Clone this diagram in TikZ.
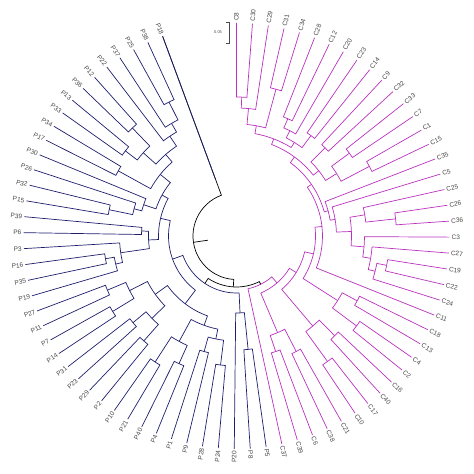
\documentclass[tikz,border=0pt]{standalone}
\usepackage{fontspec}
\setmainfont{Liberation Sans}
\definecolor{navyedge}{RGB}{30,30,110}
\definecolor{magedge}{RGB}{185,50,190}
\definecolor{lbltext}{RGB}{70,70,70}
\tikzset{
  lbl/.style={font=\fontsize{6.5}{7}\selectfont, text=lbltext, inner sep=0.5pt},
  pedge/.style={draw=navyedge, line width=0.7pt},
  cedge/.style={draw=magedge, line width=0.7pt},
  redge/.style={draw=black, line width=0.7pt}
}
% leaf: id, position, text
\newcommand\tleaf[3]{%
  \pgfmathsetmacro\aL{90-4.3*#2}%
  \expandafter\xdef\csname ang#1\endcsname{\aL}%
  \coordinate (#1) at (\aL:213);
  \ifdim\aL pt>-90pt
    \node[lbl, rotate=\aL, anchor=west] (lb#1) at (\aL:214.5) {#3};
  \else
    \pgfmathsetmacro\aR{\aL+180}%
    \node[lbl, rotate=\aR, anchor=east] (lb#1) at (\aL:214.5) {#3};
  \fi
}
% join: id, child a, child b, radius, style
\newcommand\tjoin[5]{%
  \edef\aA{\csname ang#2\endcsname}\edef\aB{\csname ang#3\endcsname}%
  \pgfmathsetmacro\aM{(\aA+\aB)/2}%
  \expandafter\xdef\csname ang#1\endcsname{\aM}%
  \coordinate (#1) at (\aM:#4);
  \draw[#5] (#2) -- (\aA:#4) arc[start angle=\aA, end angle=\aB, radius=#4] -- (#3);
}

\begin{document}
\begin{tikzpicture}[x=1pt, y=1pt]
  \useasboundingbox (-236.5,-238) rectangle (237.5,236);

  %% leaves
  \foreach \n/\i in {C8/0, C30/1, C29/2, C31/3, C34/4, C28/5, C12/6, C20/7,
      C23/8, C14/9, C9/10, C32/11, C33/12, C7/13, C1/14, C15/15, C35/16,
      C5/17, C25/18, C26/19, C36/20, C3/21, C27/22, C19/23, C22/24, C24/25,
      C11/26, C18/27, C13/28, C4/29, C2/30, C16/31, C40/32, C17/33, C10/34,
      C21/35, C38/36, C6/37, C39/38, C37/39}
    \tleaf{\n}{\i}{\n};
  \foreach \n/\i in {P5/40, P8/41, P20/42, P24/43, P28/44, P9/45, P1/46,
      P4/47, P40/48, P21/49, P10/50, P2/51, P29/52, P23/53, P31/54, P14/55,
      P7/56, P11/57, P27/58, P19/59, P35/60, P16/61, P3/62, P6/63, P39/64,
      P15/65, P32/66, P26/67, P30/68, P17/69, P34/70, P33/71, P13/72,
      P36/73, P12/74, P22/75, P37/76, P25/77, P38/78, P18/79}
    \tleaf{\n}{\i}{\n};

  %% C cluster
  \tjoin{c1}{C8}{C30}{139}{cedge}
  \tjoin{c2}{c1}{C29}{128}{cedge}
  \tjoin{c3}{C31}{C34}{152}{cedge}
  \tjoin{c4}{c2}{c3}{112}{cedge}
  \tjoin{c5}{C28}{C12}{128}{cedge}
  \tjoin{c6}{c5}{C20}{118}{cedge}
  \tjoin{c7}{C23}{C14}{125}{cedge}
  \tjoin{c8}{c6}{c7}{110}{cedge}
  \tjoin{c10}{C9}{C32}{125}{cedge}
  \tjoin{c11}{C33}{C7}{140}{cedge}
  \tjoin{c12}{C1}{C15}{150}{cedge}
  \tjoin{c13}{c11}{c12}{118}{cedge}
  \tjoin{c14}{c10}{c13}{105}{cedge}
  \tjoin{c15}{C26}{C36}{160}{cedge}
  \tjoin{c16}{C25}{c15}{130}{cedge}
  \tjoin{c17}{C19}{C22}{153}{cedge}
  \tjoin{c18}{c17}{C24}{143}{cedge}
  \tjoin{c19}{C27}{c18}{136}{cedge}
  \tjoin{c20}{C3}{c19}{128}{cedge}
  \tjoin{c21}{c16}{c20}{115}{cedge}
  \tjoin{c22}{C5}{c21}{100}{cedge}
  \tjoin{c23}{C35}{c22}{95}{cedge}
  \tjoin{c24}{C18}{C13}{137}{cedge}
  \tjoin{c25}{C4}{C2}{150}{cedge}
  \tjoin{c26}{c24}{c25}{120}{cedge}
  \tjoin{c27}{C16}{C40}{140}{cedge}
  \tjoin{c28}{C17}{C10}{155}{cedge}
  \tjoin{c29}{c27}{c28}{118}{cedge}
  \tjoin{c30}{C21}{C38}{130}{cedge}
  \tjoin{c31}{C6}{C39}{122}{cedge}
  \tjoin{c32}{c30}{c31}{105}{cedge}
  \tjoin{cl1}{c4}{c8}{104}{cedge}
  \tjoin{cl2}{cl1}{c14}{98}{cedge}
  \tjoin{cl3}{cl2}{c23}{91}{cedge}
  \tjoin{cl4}{cl3}{C11}{86}{cedge}
  \tjoin{cl5}{cl4}{c26}{79}{cedge}
  \tjoin{cl6}{cl5}{c29}{70}{cedge}
  \tjoin{cl7}{cl6}{c32}{62}{cedge}
  \tjoin{cl8}{cl7}{C37}{54}{cedge}

  %% P cluster
  \tjoin{p1}{P24}{P28}{130}{pedge}
  \tjoin{p2}{P9}{P1}{120}{pedge}
  \tjoin{p3}{p1}{p2}{105}{pedge}
  \tjoin{p4}{P4}{P40}{140}{pedge}
  \tjoin{p5}{P21}{P10}{150}{pedge}
  \tjoin{p6}{p4}{p5}{120}{pedge}
  \tjoin{p7}{p3}{p6}{95}{pedge}
  \tjoin{p8}{P2}{P29}{140}{pedge}
  \tjoin{p9}{P23}{P31}{135}{pedge}
  \tjoin{p10}{p8}{p9}{118}{pedge}
  \tjoin{p11}{P14}{P7}{145}{pedge}
  \tjoin{p12}{P11}{P27}{140}{pedge}
  \tjoin{p13}{p11}{p12}{120}{pedge}
  \tjoin{p14}{p10}{p13}{100}{pedge}
  \tjoin{p15}{p7}{p14}{85}{pedge}
  \tjoin{p16}{P35}{P16}{133}{pedge}
  \tjoin{p17}{P19}{p16}{124}{pedge}
  \tjoin{p18}{p17}{P3}{117}{pedge}
  \tjoin{p19}{P6}{P39}{95}{pedge}
  \tjoin{p20}{p18}{p19}{88}{pedge}
  \tjoin{p21}{P15}{P32}{130}{pedge}
  \tjoin{p22}{p21}{P26}{106}{pedge}
  \tjoin{p23}{p22}{P30}{98}{pedge}
  \tjoin{p24}{P38}{P25}{150}{pedge}
  \tjoin{p25}{p24}{P37}{130}{pedge}
  \tjoin{p26}{p25}{P22}{120}{pedge}
  \tjoin{p27}{P12}{P36}{150}{pedge}
  \tjoin{p28}{P13}{P33}{140}{pedge}
  \tjoin{p29}{p27}{p28}{125}{pedge}
  \tjoin{p30}{p26}{p29}{108}{pedge}
  \tjoin{p31}{P34}{P17}{135}{pedge}
  \tjoin{p32}{p30}{p31}{98}{pedge}
  \tjoin{q1}{p32}{p23}{85}{pedge}
  \tjoin{q2}{q1}{p20}{78}{pedge}
  \tjoin{q3}{q2}{p15}{68}{pedge}
  \tjoin{pb1}{P5}{P8}{114}{pedge}
  \tjoin{pb2}{pb1}{P20}{77}{pedge}
  \tjoin{ny}{pb2}{q3}{57}{pedge}

  %% root
  \tjoin{nx}{ny}{cl8}{51}{redge}
  \tjoin{root}{P18}{nx}{43.5}{redge}
  \coordinate (stem) at (\csname angroot\endcsname:29);
  \coordinate (p18in) at (\csname angP18\endcsname:60);
  \draw[redge] (root) -- (stem);
  \draw[pedge] (P18) -- (p18in);

  %% scale
  \draw[line width=0.6pt, black!70] (-10,214) -- (-7.5,214) -- (-7.5,193) -- (-10,193);
  \node[font=\fontsize{4}{5}\selectfont, text=lbltext, anchor=east] (scl) at (-11,203.5) {0.05};
\end{tikzpicture}
\end{document}
